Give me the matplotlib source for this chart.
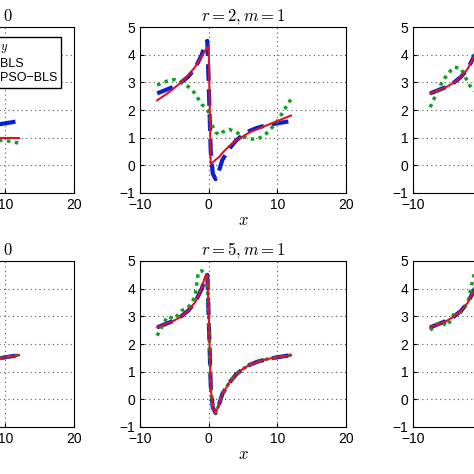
import matplotlib
matplotlib.use("Agg")
import matplotlib.pyplot as plt

plt.rcParams['mathtext.fontset'] = 'cm'
plt.rcParams['font.family'] = ['Liberation Sans', 'DejaVu Sans']

x = [-7.5,-6,-5,-4,-3,-2,-1.5,-1,-0.5,-0.2,0,0.3,0.6,1,1.5,2,3,4,5,6,7,8,9,10,11,12]
y_true = [2.6,2.75,2.85,3.0,3.2,3.5,3.75,4.0,4.4,4.5,3.0,0.5,-0.3,-0.5,-0.2,0.2,0.6,0.9,1.1,1.25,1.35,1.42,1.48,1.52,1.56,1.6]

# top row
bls_t0 = [2.2,2.3,2.4,2.3,2.2,2.0,1.9,1.8,1.7,1.6,1.5,1.4,1.3,1.2,1.15,1.1,1.05,1.0,1.0,1.0,0.95,0.95,0.9,0.9,0.85,0.8]
pso_t0 = [2.0,2.0,2.0,2.0,2.0,2.0,2.0,2.0,2.0,2.0,1.0,1.0,1.0,1.0,1.0,1.0,1.0,1.0,1.0,1.0,1.0,1.0,1.0,1.0,1.0,1.0]
bls_t1 = [2.9,3.05,3.1,3.0,2.85,2.6,2.4,2.2,2.1,2.0,1.9,1.6,1.4,1.2,1.1,1.2,1.3,1.2,1.05,0.95,0.95,1.05,1.3,1.6,2.0,2.4]
pso_t1 = [2.35,2.6,2.8,3.0,3.25,3.55,3.75,3.95,4.15,4.25,4.3,0.05,0.1,0.2,0.3,0.45,0.7,0.9,1.05,1.2,1.3,1.4,1.5,1.6,1.7,1.8]
bls_t2 = [2.1,2.9,3.3,3.55,3.5,3.0,2.8,2.7,2.6,2.5,2.3,1.5,1.0,0.6,0.5,0.6,0.8,1.0,1.2,1.3,1.4,1.45,1.5,1.55,1.6,1.7]
pso_t2 = [2.6,2.75,2.85,3.0,3.2,3.5,3.75,4.0,4.35,4.45,3.1,0.5,-0.25,-0.45,-0.2,0.2,0.6,0.9,1.1,1.25,1.35,1.42,1.48,1.52,1.56,1.6]

# bottom row
bls_b0 = [2.5,2.8,2.9,3.0,3.3,3.6,3.8,4.0,4.3,4.4,3.0,0.5,-0.2,-0.4,-0.2,0.2,0.6,0.9,1.1,1.25,1.35,1.42,1.48,1.52,1.56,1.6]
pso_b0 = y_true
bls_b1 = [2.3,3.0,2.9,3.2,3.3,3.7,4.6,4.65,4.5,4.3,3.0,0.5,-0.3,-0.5,-0.2,0.2,0.6,0.9,1.1,1.25,1.35,1.42,1.48,1.52,1.56,1.6]
pso_b1 = [2.6,2.75,2.85,3.0,3.2,3.5,3.75,4.05,4.45,4.5,3.2,0.4,-0.35,-0.5,-0.2,0.2,0.6,0.9,1.1,1.25,1.35,1.42,1.48,1.52,1.56,1.6]
bls_b2 = [2.5,2.8,2.65,3.1,3.15,3.5,4.1,4.6,4.5,4.4,3.0,0.5,-0.3,-0.5,-0.2,0.2,0.6,0.9,1.1,1.25,1.35,1.42,1.48,1.52,1.56,1.6]
pso_b2 = y_true

titles = [r"$r=2, m=0$", r"$r=2, m=1$", r"$r=2, m=2$",
          r"$r=5, m=0$", r"$r=5, m=1$", r"$r=5, m=2$"]
series = [(bls_t0, pso_t0), (bls_t1, pso_t1), (bls_t2, pso_t2),
          (bls_b0, pso_b0), (bls_b1, pso_b1), (bls_b2, pso_b2)]

fig = plt.figure(figsize=(4.74, 4.74), dpi=100)
W, H = 474.0, 474.0
lefts = [-132, 140, 413]
bottoms = [193, 427]
for i in range(6):
    r, c = divmod(i, 3)
    ax = fig.add_axes([lefts[c] / W, (H - bottoms[r]) / H, 206 / W, 166 / H])
    bls, pso = series[i]
    ax.plot(x, y_true, color='#0a1fd0', ls=(0, (4, 2)), lw=3, label='$y$')
    ax.plot(x, bls, color='#10a020', ls=(0, (1, 1.3)), lw=2.5, label='BLS')
    ax.plot(x, pso, color='#e0102a', lw=1.5, label='PSO−BLS')
    ax.set_xlim(-10, 20)
    ax.set_ylim(-1, 5)
    ax.set_xticks([-10, 0, 10, 20])
    ax.set_yticks(range(-1, 6))
    ax.grid(True, color='#555555', ls=(0, (1, 3)), lw=0.8)
    ax.tick_params(direction='in', labelsize=10, length=3)
    ax.set_title(titles[i], fontsize=12, pad=5)
    if c == 1:
        ax.set_xlabel('$x$', fontsize=12, labelpad=1)
    if i == 0:
        ax.legend(loc='upper right', bbox_to_anchor=(0.966, 0.975), fontsize=9,
                  handlelength=1.8, borderpad=0.3, labelspacing=0.2,
                  fancybox=False, edgecolor='black', framealpha=1)

fig.savefig('out.png', dpi=100)
